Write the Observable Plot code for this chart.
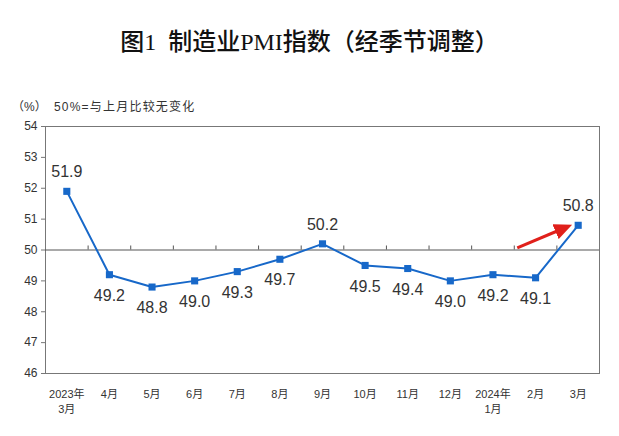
<!DOCTYPE html>
<html><head><meta charset="utf-8">
<script src="https://cdn.jsdelivr.net/npm/d3@7"></script>
<script src="https://cdn.jsdelivr.net/npm/@observablehq/plot@0.6"></script>
<style>
body{margin:0;background:#fff;width:619px;height:436px;overflow:hidden;position:relative}
#title{position:absolute;left:0;top:0;width:619px;height:80px;text-align:center;line-height:84px;font-weight:500;font-size:24px;font-family:"Liberation Serif","Noto Sans CJK SC";color:#111;white-space:pre;z-index:2}
.sub{position:absolute;top:97px;font-size:12px;font-family:"Liberation Sans","Noto Sans CJK SC";color:#333;white-space:pre;z-index:2}
#chart{position:absolute;left:0;top:80px;z-index:1}
</style></head>
<body>
<div id="title">图1  制造业PMI指数（经季节调整）</div>
<div class="sub" style="left:12px">（%）</div>
<div class="sub" style="left:54px;letter-spacing:1.2px">50%=与上月比较无变化</div>
<div id="chart"></div>
<script>
const months = ["2023年\n3月","4月","5月","6月","7月","8月","9月","10月","11月","12月","2024年\n1月","2月","3月"];
const pmi = [51.9,49.2,48.8,49.0,49.3,49.7,50.2,49.5,49.4,49.0,49.2,49.1,50.8];
const yTicks = [46,47,48,49,50,51,52,53,54];
const baseline = 50;
const arrowStart = {x: 10.57, y: 50.07};
const arrowEnd = {x: 11.62, y: 50.68};

const blue = "#1768c9";
const red = "#e0201b";

function filledArrow(color, context) {
  const ns = "http://www.w3.org/2000/svg";
  const doc = (context && context.document) || document;
  const m = doc.createElementNS(ns, "marker");
  m.setAttribute("viewBox", "-18 -8 18 16");
  m.setAttribute("markerWidth", "18");
  m.setAttribute("markerHeight", "16");
  m.setAttribute("markerUnits", "userSpaceOnUse");
  m.setAttribute("orient", "auto");
  m.setAttribute("refX", "-11");
  m.setAttribute("refY", "0");
  const p = doc.createElementNS(ns, "path");
  p.setAttribute("d", "M-18,-8L0,0L-18,8Z");
  p.setAttribute("fill", color);
  p.setAttribute("stroke", "none");
  m.appendChild(p);
  return m;
}

const idx = (d, i) => i;
const chart = Plot.plot({
  width: 619, height: 356,
  marginTop: 46, marginBottom: 63, marginLeft: 45, marginRight: 20,
  x: {type: "linear", domain: [-0.5, months.length - 0.5], axis: null},
  y: {domain: [46, 54], axis: null},
  style: {fontFamily: "'Liberation Sans','Noto Sans CJK SC',sans-serif", color: "#333", background: "transparent"},
  marks: [
    Plot.frame({stroke: "#777"}),
    Plot.axisY({ticks: yTicks, label: null, tickSize: 4, tickPadding: 4, fontSize: 12, stroke: "#777", tickFormat: d => String(d)}),
    Plot.axisX({ticks: d3.range(months.length), label: null, tickFormat: i => months[i], tickSize: 0, tickPadding: 14, fontSize: 11, lineHeight: 1.35}),
    Plot.ruleY([baseline], {stroke: "#555"}),
    Plot.ruleX(d3.range(0.5, months.length - 1, 1), {y1: baseline, y2: baseline + 0.13, stroke: "#555"}),
    Plot.line(pmi, {x: idx, y: d => d, stroke: blue, strokeWidth: 2}),
    Plot.dot(pmi, {x: idx, y: d => d, symbol: "square", r: 4, fill: blue, stroke: null}),
    Plot.text(pmi, {filter: d => d >= baseline, x: idx, y: d => d, text: d => d.toFixed(1), dy: -19, fontSize: 16, fill: "#333"}),
    Plot.text(pmi, {filter: d => d < baseline, x: idx, y: d => d, text: d => d.toFixed(1), dy: 21, fontSize: 16, fill: "#333"}),
    Plot.link([arrowStart], {x1: "x", y1: "y", x2: () => arrowEnd.x, y2: () => arrowEnd.y, stroke: red, strokeWidth: 3, markerEnd: filledArrow})
  ]
});
document.getElementById("chart").appendChild(chart);
</script>
</body></html>
